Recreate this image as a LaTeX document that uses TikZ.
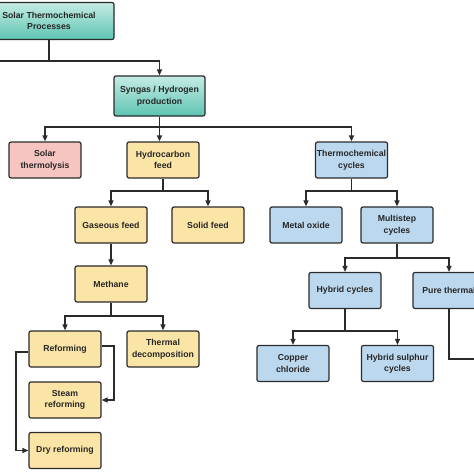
\documentclass[tikz,border=0pt]{standalone}
\usepackage{fontspec}
\setmainfont{Liberation Sans}
\usetikzlibrary{arrows.meta}
\definecolor{teal1}{HTML}{5EC4B2}
\definecolor{teal2}{HTML}{C4ECE4}
\definecolor{pinkc}{HTML}{F7C5C1}
\definecolor{yelc}{HTML}{FBE5A6}
\definecolor{bluec}{HTML}{BCD8EE}
\definecolor{linec}{HTML}{2B2B2B}
\tikzset{
  box/.style={draw=linec, line width=1.2pt, rounded corners=2pt, minimum width=72pt, minimum height=36pt,
    align=center, font=\fontsize{8.7}{11.5}\selectfont\bfseries, text=black!85, inner sep=0.5pt},
  tealbox/.style={box, top color=teal2, bottom color=teal1},
  pinkbox/.style={box, fill=pinkc},
  yelbox/.style={box, fill=yelc},
  bluebox/.style={box, fill=bluec},
  conn/.style={draw=linec, line width=1.2pt},
  arr/.style={conn, -{Triangle[length=6pt,width=5pt]}},
}
\begin{document}
\begin{tikzpicture}[x=1pt,y=-1pt]
\useasboundingbox (0,0) rectangle (474,474);
\clip (0,0) rectangle (474,474);
\fill[white] (0,0) rectangle (474,474);
% nodes
\node[tealbox, minimum width=130pt, minimum height=37pt] (stp) at (49,21) {Solar Thermochemical\\Processes};
\node[tealbox, minimum width=91pt, minimum height=40pt] (syn) at (159.5,96) {Syngas / Hydrogen\\production};
\node[pinkbox] (sth) at (45,160) {Solar\\thermolysis};
\node[yelbox] (hcf) at (163,160) {Hydrocarbon\\feed};
\node[bluebox] (tcc) at (351.5,160) {Thermochemical\\cycles};
\node[yelbox] (gas) at (111,225) {Gaseous feed};
\node[yelbox] (sol) at (208,225) {Solid feed};
\node[bluebox] (mox) at (306,225) {Metal oxide};
\node[bluebox] (msc) at (397,225) {Multistep\\cycles};
\node[yelbox] (met) at (111,284) {Methane};
\node[bluebox] (hyc) at (345,290.5) {Hybrid cycles};
\node[bluebox] (ptc) at (449,290.5) {Pure thermal};
\node[yelbox] (ref) at (65,349) {Reforming};
\node[yelbox] (thd) at (163,349) {Thermal\\decomposition};
\node[bluebox] (cuc) at (293,363.5) {Copper\\chloride};
\node[bluebox] (hsc) at (397.5,363.5) {Hybrid sulphur\\cycles};
\node[yelbox] (stm) at (65,400) {Steam\\reforming};
\node[yelbox] (dry) at (65,450.5) {Dry reforming};
\coordinate (offl) at (-5,61);
\coordinate (offr) at (480,359);
% connectors
\draw[conn] (stp.south) |- (offl);
\draw[arr] (stp.south) |- (159.5,61) -- (syn.north);
\draw[conn] (syn.south) -- (159.5,127);
\draw[arr] (159.5,127) -| (sth.north);
\draw[arr] (159.5,127) -| (tcc.north);
\draw[arr] (syn.south) -- (hcf.north -| syn.south);
\draw[conn] (hcf.south) -- (163,191);
\draw[arr] (163,191) -| (gas.north);
\draw[arr] (163,191) -| (sol.north);
\draw[conn] (tcc.south) -- (351.5,191);
\draw[arr] (351.5,191) -| (mox.north);
\draw[arr] (351.5,191) -| (msc.north);
\draw[arr] (gas.south) -- (met.north);
\draw[conn] (met.south) -- (111,316);
\draw[arr] (111,316) -| (ref.north);
\draw[arr] (111,316) -| (thd.north);
\draw[conn] (msc.south) -- (397,258);
\draw[arr] (397,258) -| (hyc.north);
\draw[arr] (397,258) -| (ptc.north);
\draw[conn] (ptc.south) |- (offr);
\draw[conn] (hyc.south) -- (345,331);
\draw[arr] (345,331) -| (cuc.north);
\draw[arr] (345,331) -| (hsc.north);
\draw[arr] (ref.east |- 0,346) -- (114,346) |- (stm.east);
\draw[arr] (ref.west |- 0,352) -- (16,352) |- (dry.west);
\end{tikzpicture}
\end{document}
